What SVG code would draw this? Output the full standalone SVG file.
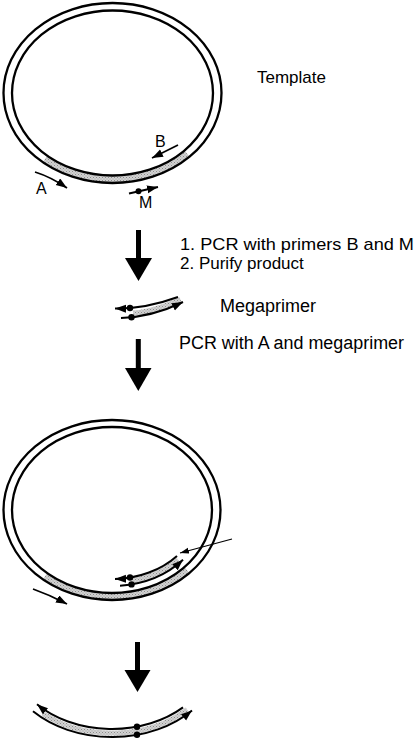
<svg xmlns="http://www.w3.org/2000/svg" width="417" height="743" viewBox="0 0 417 743">
<style>
  .ring { fill: none; stroke: #000; stroke-width: 2.3; }
  .band { fill: none; stroke: url(#stip); stroke-width: 7; }
  .gband { fill: none; stroke: url(#stip); stroke-width: 5; }
  .strand { fill: none; stroke: #000; stroke-width: 2; }
  .primer { fill: none; stroke: #000; stroke-width: 1.8; marker-end: url(#head); }
  .dot { fill: #000; }
  .lbl { font-family: "Liberation Sans", Arial, sans-serif; fill: #000; }
  .big { fill: #000; }
</style>
<defs>
  <pattern id="stip" width="3" height="3" patternUnits="userSpaceOnUse">
    <rect width="3" height="3" fill="#d2d2d2"/>
    <rect x="0" y="0" width="1" height="1" fill="#8c8c8c"/>
    <rect x="1.5" y="1.5" width="1" height="1" fill="#a0a0a0"/>
  </pattern>
  <marker id="head" markerUnits="userSpaceOnUse" markerWidth="12" markerHeight="9" refX="11" refY="4" orient="auto">
    <path d="M0,0 L11,4 L0,8 Z" fill="#000"/>
  </marker>
  <marker id="thinhead" markerUnits="userSpaceOnUse" markerWidth="10" markerHeight="7" refX="9" refY="3" orient="auto">
    <path d="M0,0 L9,3 L0,6 Z" fill="#000"/>
  </marker>
</defs>
<rect width="417" height="743" fill="#fff"/>

<g id="template">
  <path class="band" d="M187,153.6 A104.75 86.25 0 0 1 45,159"/>
  <ellipse class="ring" cx="112.5" cy="93" rx="109" ry="90"/>
  <ellipse class="ring" cx="112.5" cy="93" rx="100.5" ry="82.5"/>
  <path class="primer" d="M35,172 Q51,177 67,188"/>
  <path class="primer" d="M178,145 L152,158"/>
  <path class="primer" d="M129,193.5 L158,187"/>
  <circle class="dot" cx="138.5" cy="191.3" r="3"/>
  <text class="lbl" x="36" y="194" font-size="16">A</text>
  <text class="lbl" x="155" y="147" font-size="16">B</text>
  <text class="lbl" x="139" y="208" font-size="16">M</text>
  <text class="lbl" x="257" y="83" font-size="17">Template</text>
</g>

<g id="step1-label">
  <text class="lbl" x="180" y="250" font-size="17" textLength="234" lengthAdjust="spacingAndGlyphs">1. PCR with primers B and M</text>
  <text class="lbl" x="180" y="269" font-size="17">2. Purify product</text>
</g>

<g id="megaprimer">
  <path class="gband" d="M180.5,299.5 Q150,312.5 133,313"/>
  <path class="strand" style="marker-end:url(#head)" d="M178,297 Q145,309 115,308.5"/>
  <path class="strand" style="marker-end:url(#head)" d="M121,318 Q152,317 183,302"/>
  <circle class="dot" cx="130" cy="308" r="3.2"/>
  <circle class="dot" cx="131.5" cy="317.3" r="3.2"/>
  <text class="lbl" x="220" y="312" font-size="18">Megaprimer</text>
</g>

<g id="step2-label">
  <text class="lbl" x="179" y="349" font-size="18" textLength="225" lengthAdjust="spacingAndGlyphs">PCR with A and megaprimer</text>
</g>

<g id="annealed">
  <path class="band" d="M187,570.1 A104.25 86.5 0 0 1 45,576.3"/>
  <ellipse class="ring" cx="112" cy="510" rx="108.5" ry="90"/>
  <ellipse class="ring" cx="112" cy="510" rx="100" ry="83"/>
  <path class="gband" d="M178,559.6 A90.5 72.5 0 0 1 132,580.7"/>
  <path class="strand" style="marker-end:url(#head)" d="M177,555.9 A87 69 0 0 1 115,579"/>
  <path class="strand" style="marker-end:url(#head)" d="M120,585.7 A94 76 0 0 0 183,559.8"/>
  <circle class="dot" cx="130" cy="577.5" r="3.2"/>
  <circle class="dot" cx="131.5" cy="584.4" r="3.2"/>
  <path class="primer" d="M33,589 Q50,595 67,604"/>
</g>

<g id="product">
  <path class="gband" d="M187,709.4 A104 77 0 0 1 43,713.6"/>
  <path class="strand" style="marker-end:url(#head)" d="M183,707.4 A100 73 0 0 1 37,704.3"/>
  <path class="strand" style="marker-end:url(#head)" d="M33,711.3 A108 81 0 0 0 192,710.4"/>
  <circle class="dot" cx="137" cy="726.7" r="3.2"/>
  <circle class="dot" cx="137" cy="734.8" r="3.2"/>
</g>

<g id="connectors">
  <rect class="big" x="136" y="230" width="5" height="30"/>
  <path class="big" d="M125,258 L152,258 L138.5,281 Z"/>
  <rect class="big" x="135.8" y="339" width="5" height="31"/>
  <path class="big" d="M125,368 L151.5,368 L138.3,391 Z"/>
  <rect class="big" x="135" y="642" width="5" height="30"/>
  <path class="big" d="M124.5,670 L150.5,670 L137.5,692 Z"/>
  <path d="M232,539 L180,553" fill="none" stroke="#000" stroke-width="1.2" marker-end="url(#thinhead)"/>
</g>
</svg>
